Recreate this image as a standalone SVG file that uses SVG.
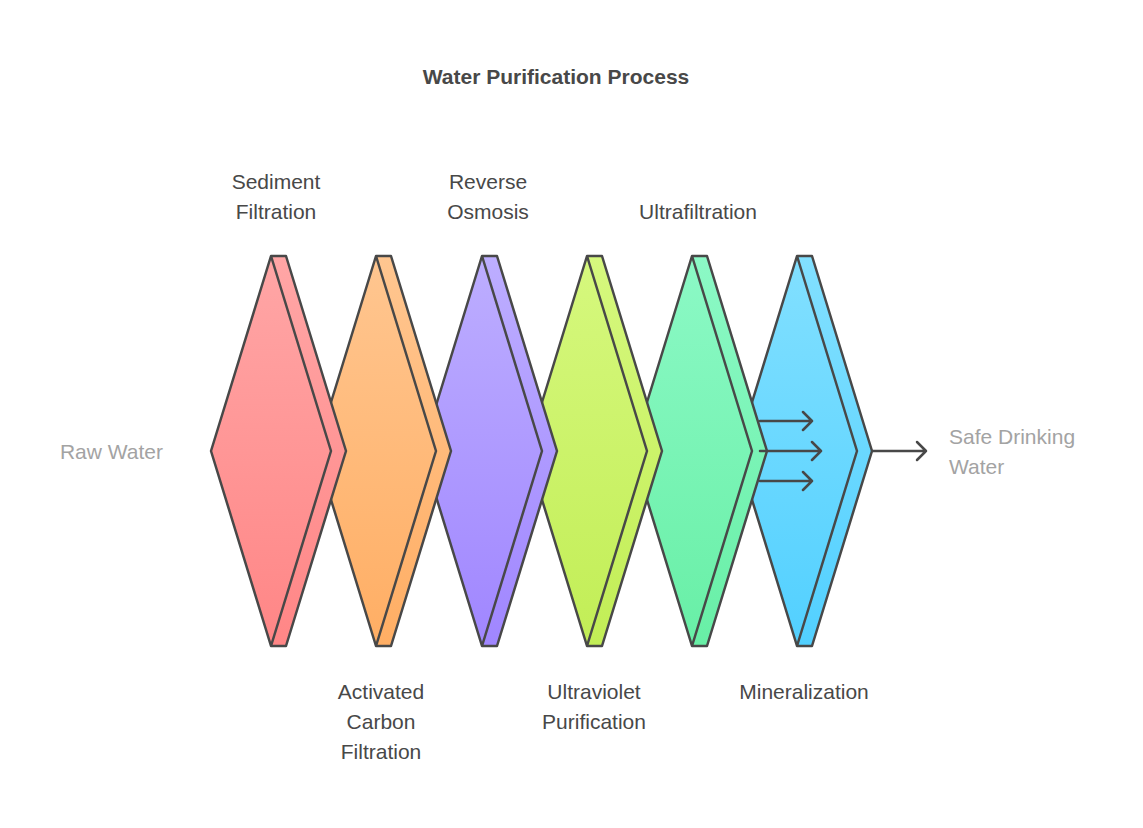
<svg xmlns="http://www.w3.org/2000/svg" width="1143" height="828" viewBox="0 0 1143 828">
<style>
text{font-family:"Liberation Sans",Arial,sans-serif;font-size:21px;fill:#484848}
.t{font-weight:bold;font-size:21px}
.g{fill:#a3a3a3}
.s{stroke:#484848;stroke-width:2.5;stroke-linejoin:round}
.a{fill:none;stroke:#484848;stroke-width:2.5;stroke-linecap:round;stroke-linejoin:round}
</style>
<defs>
<linearGradient id="g1" x1="0" y1="0" x2="0" y2="1"><stop offset="0" stop-color="#ffa6a6"/><stop offset="1" stop-color="#ff8686"/></linearGradient>
<linearGradient id="g2" x1="0" y1="0" x2="0" y2="1"><stop offset="0" stop-color="#ffc690"/><stop offset="1" stop-color="#ffae64"/></linearGradient>
<linearGradient id="g3" x1="0" y1="0" x2="0" y2="1"><stop offset="0" stop-color="#bdaeff"/><stop offset="1" stop-color="#a086ff"/></linearGradient>
<linearGradient id="g4" x1="0" y1="0" x2="0" y2="1"><stop offset="0" stop-color="#d6f87e"/><stop offset="1" stop-color="#c2ee56"/></linearGradient>
<linearGradient id="g5" x1="0" y1="0" x2="0" y2="1"><stop offset="0" stop-color="#8cf9c6"/><stop offset="1" stop-color="#68efa6"/></linearGradient>
<linearGradient id="g6" x1="0" y1="0" x2="0" y2="1"><stop offset="0" stop-color="#82e0ff"/><stop offset="1" stop-color="#52d0ff"/></linearGradient>
</defs>
<text class="t" x="556" y="84" text-anchor="middle">Water Purification Process</text>

<g id="stage6">
<path class="s" fill="url(#g6)" d="M797,256 H812 L872,451 L812,646 H797 L737,451 Z M797,256 L857,451 L797,646"/>
</g>
<g id="stage5">
<path class="s" fill="url(#g5)" d="M692,256 H707 L767,451 L707,646 H692 L632,451 Z M692,256 L752,451 L692,646"/>
</g>
<g id="connectors-temp" display="none"/>
<g id="stage4">
<path class="s" fill="url(#g4)" d="M587,256 H602 L662,451 L602,646 H587 L527,451 Z M587,256 L647,451 L587,646"/>
</g>
<g id="stage3">
<path class="s" fill="url(#g3)" d="M482,256 H497 L557,451 L497,646 H482 L422,451 Z M482,256 L542,451 L482,646"/>
</g>
<g id="stage2">
<path class="s" fill="url(#g2)" d="M376,256 H391 L451,451 L391,646 H376 L316,451 Z M376,256 L436,451 L376,646"/>
</g>
<g id="stage1">
<path class="s" fill="url(#g1)" d="M271,256 H286 L346,451 L286,646 H271 L211,451 Z M271,256 L331,451 L271,646"/>
</g>

<g id="connectors">
<!-- stage 6 -->
<path class="a" d="M760,421H812M803,412l9,9-9,9M760,451H821M812,442l9,9-9,9M760,481H812M803,472l9,9-9,9"/>
<!-- exit -->
<path class="a" d="M872,451H926M917,442l9,9-9,9"/>
</g>

<text class="g" x="163" y="459" text-anchor="end">Raw Water</text>
<text class="g" x="949" y="444">Safe Drinking</text>
<text class="g" x="949" y="474">Water</text>
<g text-anchor="middle">
<text x="276" y="189">Sediment</text><text x="276" y="219">Filtration</text>
<text x="488" y="189">Reverse</text><text x="488" y="219">Osmosis</text>
<text x="698" y="219">Ultrafiltration</text>
<text x="381" y="699">Activated</text><text x="381" y="729">Carbon</text><text x="381" y="759">Filtration</text>
<text x="594" y="699">Ultraviolet</text><text x="594" y="729">Purification</text>
<text x="804" y="699">Mineralization</text>
</g>
</svg>
